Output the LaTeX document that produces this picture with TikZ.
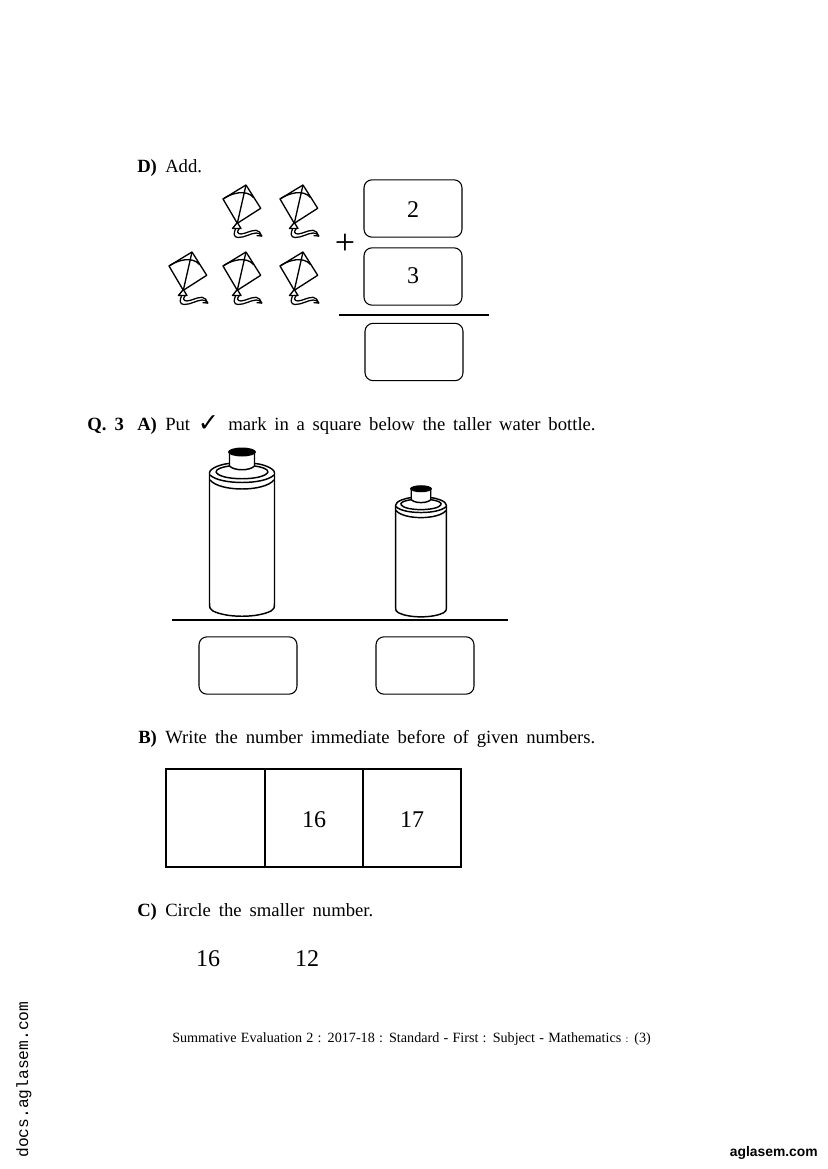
\documentclass[tikz,border=0pt]{standalone}
\usepackage{fontspec}
\setmainfont{Liberation Serif}
\newfontfamily\monof{Liberation Mono}
\newfontfamily\sansf{Liberation Sans}
\newfontfamily\symf{DejaVu Sans}
\newcommand{\fitw}[2]{\makebox[#1pt][s]{#2}}
\newcommand{\lowered}[2]{\raisebox{#1}[0pt][0pt]{#2}}
\tikzset{
  txt/.style={anchor=base west,inner sep=0pt,font=\fontsize{14}{16}\selectfont},
  num/.style={inner sep=0pt,font=\fontsize{18}{20}\selectfont},
  answerbox/.style={draw=black,line width=0.8pt,rounded corners=6pt,minimum width=73.5pt,minimum height=43pt,inner sep=0pt,font=\fontsize{18}{20}\selectfont},
  cell/.style={draw=black,line width=0.8pt,minimum width=73.5pt,minimum height=73.5pt,inner sep=0pt,font=\fontsize{18}{20}\selectfont},
  rulel/.style={line width=0.85pt},
  kiteline/.style={line width=1pt,line join=round},
  tailline/.style={line width=0.95pt,line cap=round},
  bottleline/.style={line width=1.1pt},
  pics/kite/.style={code={
    \draw[kiteline] (0,0) -- (-23,14) -- (-8.7,38.3) -- (14.7,23.3) -- cycle;
    \draw[kiteline] (0,0) -- (-8.7,38.3);
    \draw[kiteline] (-23,14) .. controls (-14,8) and (0,4) .. (7.5,12.5);
    \draw[kiteline] (-8.7,37.5) -- (-13.5,43.5) -- (-5,43.5) -- cycle;
    \draw[tailline] (-10.5,44) .. controls (-12.5,48) and (-12.5,52.5) .. (-8,52.5) .. controls (-1,52.5) and (4,48.5) .. (10,48) .. controls (13,47.8) and (14.5,49) .. (15.7,51);
    \draw[tailline] (-7,44) .. controls (-9,46) and (-9,49) .. (-5,49) .. controls (0,48.5) and (4,45.5) .. (10,45.3) .. controls (13,45.2) and (14.5,48) .. (15.7,51);
    \draw[tailline] (15.7,51) -- (11,50.7);
  }},
  pics/bottle/.style={code={
    \draw[bottleline] (-32.5,-146) .. controls (-32.5,-151) and (-20,-155) .. (-13,-155.5);
    \draw[bottleline] (32.5,-146) .. controls (32.5,-151) and (20,-155) .. (13,-155.5);
    \draw[bottleline] (-26,-147) .. controls (-26,-150) and (-20,-152) .. (-12.5,-153);
    \draw[bottleline] (26,-147) .. controls (26,-150) and (20,-152) .. (12.5,-153);
    \draw[bottleline] (-26,-147) .. controls (-22,-138) and (22,-138) .. (26,-147);
    \draw[bottleline] (-32.5,-146) -- (-32.5,-16) .. controls (-32.5,-11) and (-32,-9.5) .. (-29,-8) .. controls (-15,-1) and (15,-1) .. (29,-8) .. controls (32,-9.5) and (32.5,-11) .. (32.5,-16) -- (32.5,-146);
    \draw[bottleline] (-32,-144) .. controls (-22,-134) and (22,-134) .. (32,-144);
    \draw[bottleline] (-32,-139) .. controls (-22,-127) and (22,-127) .. (32,-139);
    \draw[bottleline] (-12.5,-167) -- (-12.5,-153) .. controls (-8,-148) and (8,-148) .. (12.5,-153) -- (12.5,-167);
    \fill[black] (0,-167) ellipse [x radius=14,y radius=4.5];
  }}
}
\begin{document}
\begin{tikzpicture}[x=0.75pt,y=-0.75pt]
\useasboundingbox[fill=white] (0,0) rectangle (827,1169);
% Section D
\node[txt] (dlabel) at (137,173) {\bfseries D)};
\node[txt] (dtext) at (165,173) {\fitw{28.5}{Add.}};
\pic at (246,185) {kite};
\pic at (303,185) {kite};
\pic at (192,252) {kite};
\pic at (246,252) {kite};
\pic at (303,252) {kite};
\node[answerbox] (two) at (413,208.5) {\lowered{-7.1pt}{2}};
\node[answerbox] (three) at (413,276.5) {\lowered{-4.9pt}{3}};
\node[answerbox] (sum) at (414,352) {};
\node[inner sep=0pt,font=\fontsize{27}{29}\selectfont] (plus) at (345,244) {+};
\coordinate (sumL) at (339,315);
\coordinate (sumR) at (489,315);
\draw[rulel] (sumL) -- (sumR);
% Q3 A
\node[txt] (qlabel) at (87,430) {\bfseries\fitw{27.5}{Q. 3}};
\node[txt] (alabel) at (137,430) {\bfseries A)};
\node[txt] (puttext) at (165,430) {\fitw{19.5}{Put}};
\node[inner sep=0pt,font=\symf\fontsize{19}{20}\selectfont] (tick) at (208.5,424) {✓};
\node[txt] (atext) at (228,430) {\fitw{275.5}{mark in a square below the taller water bottle.}};
\pic at (242,619) {bottle};
\pic[scale=.78] at (421,619) {bottle};
\coordinate (floorL) at (172,620);
\coordinate (floorR) at (508,620);
\draw[rulel] (floorL) -- (floorR);
\node[answerbox] (tallbox) at (248,665.5) {};
\node[answerbox] (shortbox) at (425,665.5) {};
% B
\node[txt] (blabel) at (138,743) {\bfseries B)};
\node[txt] (btext) at (165,743) {\fitw{322.5}{Write the number immediate before of given numbers.}};
\node[cell,minimum width=74.25pt] (c1) at (215.5,818) {};
\node[cell] (c2) at (314,818) {\lowered{-6.75pt}{16}};
\node[cell] (c3) at (412,818) {\lowered{-6.75pt}{17}};
% C
\node[txt] (clabel) at (137,916) {\bfseries C)};
\node[txt] (ctext) at (165,916) {\fitw{156}{Circle the smaller number.}};
\node[num] (n16) at (208,959) {16};
\node[num] (n12) at (307,959) {12};
% Footer
\node[anchor=base west,inner sep=0pt,font=\fontsize{10.6}{12}\selectfont] (foot) at (172,1042) {\fitw{359}{Summative Evaluation 2 : 2017-18 : Standard - First : Subject - Mathematics {\fontsize{7.5}{9}\selectfont:} (3)}};
\node[anchor=base west,inner sep=0pt,rotate=90,font=\monof\fontsize{12.2}{14}\selectfont] (docs) at (28,1158) {docs.aglasem.com};
\node[anchor=base east,inner sep=0pt,font=\sansf\bfseries\fontsize{10.4}{12}\selectfont] (brand) at (818,1156) {aglasem.com};
\end{tikzpicture}
\end{document}
